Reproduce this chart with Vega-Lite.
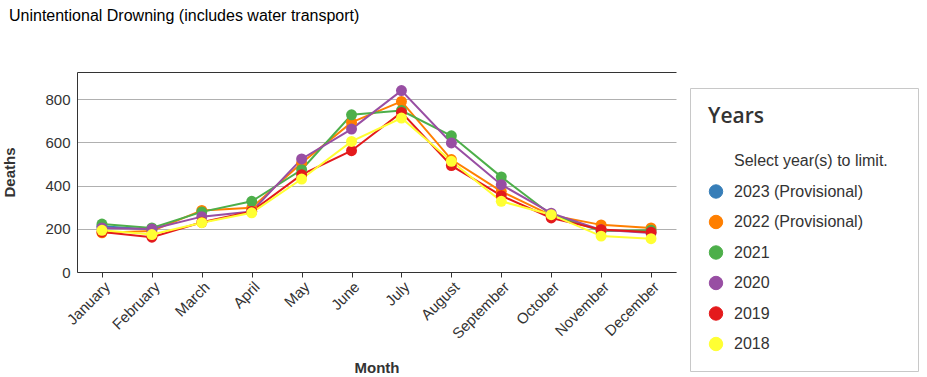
{
  "$schema": "https://vega.github.io/schema/vega-lite/v6.json",
  "width": 599,
  "height": 200,
  "padding": {"left": 2, "top": 8, "right": 6, "bottom": 2},
  "title": {"text": "Unintentional Drowning (includes water transport)", "anchor": "start", "fontSize": 16, "fontWeight": "normal", "font": "Liberation Sans", "color": "#000", "offset": 48, "dx": 6},
  "data": {"values": [
    {"month": "January", "year": "2023 (Provisional)", "deaths": 212},
    {"month": "February", "year": "2023 (Provisional)", "deaths": 197},
    {"month": "January", "year": "2022 (Provisional)", "deaths": 181},
    {"month": "February", "year": "2022 (Provisional)", "deaths": 190},
    {"month": "March", "year": "2022 (Provisional)", "deaths": 285},
    {"month": "April", "year": "2022 (Provisional)", "deaths": 297},
    {"month": "May", "year": "2022 (Provisional)", "deaths": 504},
    {"month": "June", "year": "2022 (Provisional)", "deaths": 692},
    {"month": "July", "year": "2022 (Provisional)", "deaths": 789},
    {"month": "August", "year": "2022 (Provisional)", "deaths": 520},
    {"month": "September", "year": "2022 (Provisional)", "deaths": 373},
    {"month": "October", "year": "2022 (Provisional)", "deaths": 262},
    {"month": "November", "year": "2022 (Provisional)", "deaths": 218},
    {"month": "December", "year": "2022 (Provisional)", "deaths": 204},
    {"month": "January", "year": "2021", "deaths": 222},
    {"month": "February", "year": "2021", "deaths": 204},
    {"month": "March", "year": "2021", "deaths": 278},
    {"month": "April", "year": "2021", "deaths": 327},
    {"month": "May", "year": "2021", "deaths": 473},
    {"month": "June", "year": "2021", "deaths": 727},
    {"month": "July", "year": "2021", "deaths": 747},
    {"month": "August", "year": "2021", "deaths": 630},
    {"month": "September", "year": "2021", "deaths": 440},
    {"month": "October", "year": "2021", "deaths": 265},
    {"month": "November", "year": "2021", "deaths": 190},
    {"month": "December", "year": "2021", "deaths": 193},
    {"month": "January", "year": "2020", "deaths": 204},
    {"month": "February", "year": "2020", "deaths": 199},
    {"month": "March", "year": "2020", "deaths": 256},
    {"month": "April", "year": "2020", "deaths": 280},
    {"month": "May", "year": "2020", "deaths": 523},
    {"month": "June", "year": "2020", "deaths": 661},
    {"month": "July", "year": "2020", "deaths": 839},
    {"month": "August", "year": "2020", "deaths": 597},
    {"month": "September", "year": "2020", "deaths": 404},
    {"month": "October", "year": "2020", "deaths": 272},
    {"month": "November", "year": "2020", "deaths": 195},
    {"month": "December", "year": "2020", "deaths": 180},
    {"month": "January", "year": "2019", "deaths": 185},
    {"month": "February", "year": "2019", "deaths": 161},
    {"month": "March", "year": "2019", "deaths": 230},
    {"month": "April", "year": "2019", "deaths": 280},
    {"month": "May", "year": "2019", "deaths": 450},
    {"month": "June", "year": "2019", "deaths": 561},
    {"month": "July", "year": "2019", "deaths": 738},
    {"month": "August", "year": "2019", "deaths": 492},
    {"month": "September", "year": "2019", "deaths": 353},
    {"month": "October", "year": "2019", "deaths": 250},
    {"month": "November", "year": "2019", "deaths": 196},
    {"month": "December", "year": "2019", "deaths": 184},
    {"month": "January", "year": "2018", "deaths": 193},
    {"month": "February", "year": "2018", "deaths": 173},
    {"month": "March", "year": "2018", "deaths": 228},
    {"month": "April", "year": "2018", "deaths": 274},
    {"month": "May", "year": "2018", "deaths": 430},
    {"month": "June", "year": "2018", "deaths": 604},
    {"month": "July", "year": "2018", "deaths": 712},
    {"month": "August", "year": "2018", "deaths": 512},
    {"month": "September", "year": "2018", "deaths": 327},
    {"month": "October", "year": "2018", "deaths": 265},
    {"month": "November", "year": "2018", "deaths": 166},
    {"month": "December", "year": "2018", "deaths": 154}
  ]},
  "encoding": {
    "x": {"field": "month", "type": "ordinal",
      "scale": {"domain": ["January","February","March","April","May","June","July","August","September","October","November","December"]},
      "axis": {"title": "Month", "labelAngle": -45, "labelFontSize": 15, "labelColor": "#333", "tickSize": 5, "tickColor": "#333", "domainColor": "#333", "labelPadding": 2, "titleFontSize": 15, "titleFontWeight": "bold", "titleColor": "#333", "titlePadding": 19, "grid": false}},
    "y": {"field": "deaths", "type": "quantitative",
      "scale": {"domain": [0, 925], "nice": false},
      "axis": {"title": "Deaths", "values": [0, 200, 400, 600, 800, 925], "labelExpr": "datum.value > 900 ? '' : datum.label", "ticks": false, "labelPadding": 7, "labelFontSize": 15, "labelColor": "#333", "domainColor": "#333", "titleFontSize": 15, "titleFontWeight": "bold", "titleColor": "#333", "titlePadding": 27, "grid": true, "gridColor": {"condition": {"test": "datum.value > 900", "value": "#333"}, "value": "#b0b0b0"}}},
    "color": {"field": "year", "type": "nominal",
      "scale": {"domain": ["Select year(s) to limit.", "2023 (Provisional)", "2022 (Provisional)", "2021", "2020", "2019", "2018"],
                "range": ["transparent", "#377eb8", "#ff7f00", "#4daf4a", "#984ea3", "#e41a1c", "#ffff33"]},
      "legend": {"title": "Years", "orient": "none", "legendX": 613, "legendY": 16, "symbolType": "circle", "symbolSize": 180, "symbolStrokeWidth": 1, "symbolOpacity": 1,
        "labelFontSize": 16, "labelColor": "#333", "labelOffset": 10, "labelLimit": 260, "rowPadding": 12.5, "padding": 18, "strokeColor": "#c8c8c8", "cornerRadius": 0,
        "titleFontSize": 21, "titleFont": "Open Sans", "titleFontWeight": 600, "titleColor": "#333", "titlePadding": 26,
        "labelExpr": "datum.label == 'Select year(s) to limit.' ? datum.label + '\u2800' : datum.label"}}
  },
  "layer": [
    {"mark": {"type": "line", "strokeWidth": 2}},
    {"mark": {"type": "point", "filled": true, "size": 120, "opacity": 1}}
  ],
  "config": {"font": "Liberation Sans", "view": {"stroke": null}}
}
